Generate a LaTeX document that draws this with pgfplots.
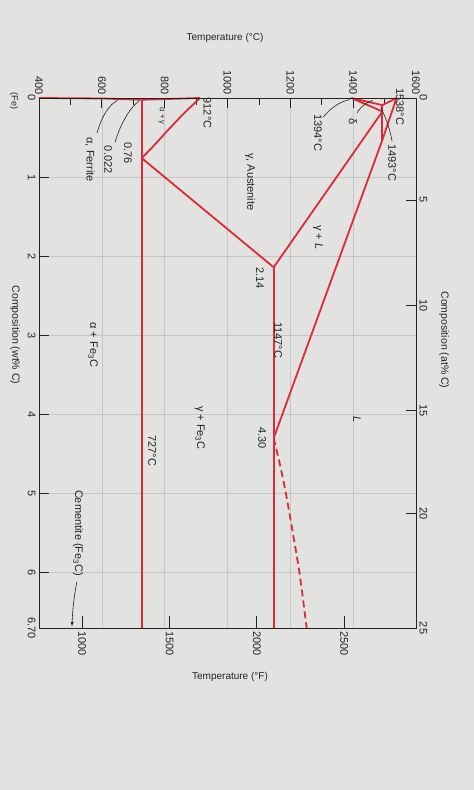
\documentclass[border=0pt]{standalone}
\usepackage{fontspec}
\setmainfont{Liberation Sans}
\usepackage{pgfplots}
\pgfplotsset{compat=1.18}
\definecolor{bg}{RGB}{226,226,224}
\definecolor{fered}{RGB}{218,44,56}
\definecolor{ink}{RGB}{35,35,35}
\definecolor{gridc}{RGB}{198,198,198}
\newcommand\fs[1]{\fontsize{#1}{#1}\selectfont}
\tikzset{
  feline/.style={fered, line width=1.8pt},
  lead/.style={ink, line width=0.6pt},
  lab/.style={rotate=-90, font=\fs{11}, text=ink},
}
\begin{document}
\begin{tikzpicture}[x=1pt,y=1pt]
\fill[bg] (0,0) rectangle (474,790);
\path[use as bounding box] (0,0) rectangle (474,790);
\pgfplotsset{
  base/.style={
    at={(39pt,162pt)}, anchor=south west, scale only axis,
    width=377pt, height=530pt,
    xmin=400, xmax=1600, ymin=0, ymax=6.70, y dir=reverse,
    axis line style={ink, line width=0.8pt},
    tick style={ink, line width=0.8pt},
    tick align=inside,
    major tick length=10pt,
    /pgf/number format/assume math mode=true,
    /pgf/number format/1000 sep={},
    ticklabel style={font=\fs{11}, text=ink},
    clip=false,
  },
}
\begin{axis}[base,
  xtick={400,600,...,1600},
  minor xtick={500,700,...,1500},
  minor tick length=7pt,
  xtick pos=right, xticklabel pos=right,
  xticklabel style={rotate=-90, anchor=east},
  ytick={0,1,2,3,4,5,6,6.70},
  yticklabels={0,1,2,3,4,5,6,6.70},
  ytick pos=left, yticklabel pos=left,
  yticklabel style={rotate=-90, anchor=north},
  grid=major, grid style={gridc, line width=0.5pt},
]
% phase boundaries (x = temperature in C, y = wt% C)
\addplot[feline, no marks] coordinates {(400,0) (600,0.006) (727,0.022)};
\addplot[feline, no marks] coordinates {(727,0.022) (912,0)};
\addplot[feline, no marks, smooth] coordinates {(912,0) (860,0.2) (812,0.4) (766,0.6) (727,0.76)};
\addplot[feline, no marks] coordinates {(727,0.022) (727,6.70)};
\addplot[feline, no marks] coordinates {(727,0.76) (1147,2.14)};
\addplot[feline, no marks] coordinates {(1147,2.14) (1147,6.70)};
\addplot[feline, no marks] coordinates {(1147,2.14) (1493,0.17)};
\addplot[feline, no marks] coordinates {(1147,4.30) (1493,0.53)};
\addplot[feline, no marks, smooth, dash pattern=on 7pt off 4pt] coordinates {(1147,4.30) (1165,4.6) (1186,5.0) (1208,5.5) (1229,6.0) (1252,6.70)};
\addplot[feline, no marks] coordinates {(1493,0.09) (1493,0.53)};
\addplot[feline, no marks] coordinates {(1538,0) (1493,0.09)};
\addplot[feline, no marks] coordinates {(1538,0) (1493,0.53)};
\addplot[feline, no marks] coordinates {(1394,0) (1493,0.09)};
\addplot[feline, no marks] coordinates {(1394,0) (1493,0.17)};
% leaders
\draw[lead] (axis cs:642,0.56) .. controls (axis cs:660,0.32) and (axis cs:690,0.12) .. (axis cs:718,0.04);
\draw[lead] (axis cs:585,0.44) .. controls (axis cs:600,0.22) and (axis cs:625,0.08) .. (axis cs:650,0.03);
\draw[lead] (axis cs:1305,0.24) .. controls (axis cs:1330,0.12) and (axis cs:1360,0.04) .. (axis cs:1390,0.02);
\draw[lead] (axis cs:1412,0.19) .. controls (axis cs:1425,0.10) and (axis cs:1445,0.05) .. (axis cs:1462,0.03);
\draw[lead] (axis cs:1524,0.55) .. controls (axis cs:1515,0.35) and (axis cs:1500,0.22) .. (axis cs:1488,0.12);
\draw[lead, -latex] (axis cs:520,6.12) .. controls (axis cs:512,6.30) and (axis cs:507,6.45) .. (axis cs:505,6.68);
% labels
\node[lab] at (axis cs:936,0.19) {912°C};
\node[lab] at (axis cs:683,0.70) {0.76};
\node[lab] at (axis cs:620,0.78) {0.022};
\node[lab] at (axis cs:562,0.78) {α, Ferrite};
\node[lab, font=\fs{7.5}] at (axis cs:789,0.23) {α + γ};
\node[lab] at (axis cs:1072,1.06) {γ, Austenite};
\node[lab] at (axis cs:1288,0.44) {1394°C};
\node[lab] at (axis cs:1399,0.30) {δ};
\node[lab] at (axis cs:1549,0.11) {1538°C};
\node[lab] at (axis cs:1524,0.82) {1493°C};
\node[lab] at (axis cs:1288,1.76) {γ + \textit{L}};
\node[lab] at (axis cs:1103,2.28) {2.14};
\node[lab] at (axis cs:1161,3.06) {1147°C};
\node[lab] at (axis cs:1110,4.30) {4.30};
\node[lab] at (axis cs:1412,4.07) {\textit{L}};
\node[lab] at (axis cs:572,3.12) {α + Fe\textsubscript{3}C};
\node[lab] at (axis cs:912,4.17) {γ + Fe\textsubscript{3}C};
\node[lab] at (axis cs:760,4.46) {727°C};
\node[lab] at (axis cs:524,5.50) {Cementite (Fe\textsubscript{3}C)};
\end{axis}
% Fahrenheit axis (bottom)
\begin{axis}[base, xmin=752, xmax=2912,
  xtick={1000,1500,2000,2500}, xtick pos=left, xticklabel pos=left,
  xticklabel style={rotate=-90, anchor=west}, ytick=\empty, major tick length=12pt]
\end{axis}
% atomic percent axis (right)
\begin{axis}[base, xtick=\empty,
  ytick={0,1.29,2.62,3.95,5.25,6.70}, yticklabels={0,5,10,15,20,25},
  ytick pos=right, yticklabel pos=right,
  yticklabel style={rotate=-90, anchor=south}]
\end{axis}
\node[font=\fs{10}, text=ink] at (225,752) {Temperature (°C)};
\node[font=\fs{10}, text=ink] at (230,113) {Temperature (°F)};
\node[font=\fs{10.5}, text=ink, rotate=-90] at (15,455) {Composition (wt\% C)};
\node[font=\fs{10.5}, text=ink, rotate=-90] at (444,450) {Composition (at\% C)};
\node[font=\fs{9}, text=ink, rotate=-90] at (14,689) {(Fe)};
\end{tikzpicture}
\end{document}
